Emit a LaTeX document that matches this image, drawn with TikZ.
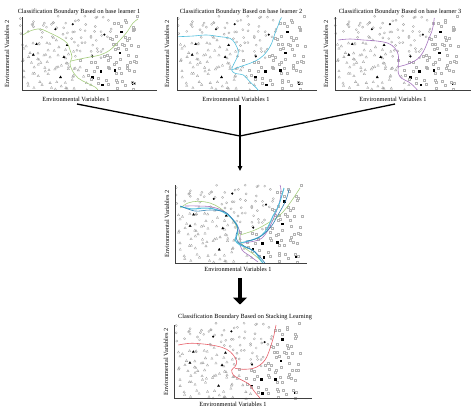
\documentclass[tikz,border=0pt]{standalone}
\usepackage{fontspec}
\setmainfont{Liberation Serif}
\usetikzlibrary{arrows.meta}
\definecolor{mkgray}{RGB}{160,160,160}
\definecolor{sqgray}{RGB}{180,180,180}
\definecolor{bgreen}{RGB}{165,205,125}
\definecolor{bcyan}{RGB}{80,190,220}
\definecolor{bblue}{RGB}{50,130,180}
\definecolor{bpurple}{RGB}{165,115,190}
\definecolor{bred}{RGB}{230,95,105}
\tikzset{
  mkpt/.style={draw=mkgray,line width=0.3pt},
  mksq/.style={draw=sqgray,line width=0.25pt},
  mkblack/.style={draw=black,fill=black,line width=0.2pt},
  axisline/.style={draw=black!75,line width=0.5pt},
  lbl/.style={font=\fontsize{6.3}{7}\selectfont,inner sep=0pt},
  bnd/.style={line width=0.6pt,smooth,tension=0.6},
  conn/.style={line width=1.3pt,draw=black},
}
% grid cells that hold a black (filled) marker
\foreach \a/\b in {5/2,9/1,8/3,13/2,17/1,2/4,1/6,6/6,6/8,12/5,15/7,17/5,13/8,11/9,14/10,18/9}{%
  \expandafter\gdef\csname blkcell\a-\b\endcsname{}}
\newcommand\scatterpanel[5]{%
  \pgfmathsetseed{#5}%
  \foreach \i in {0,...,19}{%
    \foreach \j in {0,...,10}{%
      \pgfmathsetmacro\uu{(\i+0.5+0.8*rand)/20}%
      \pgfmathsetmacro\vv{(\j+0.5+0.8*rand)/11}%
      \pgfmathsetmacro\px{#1+\uu*#3}%
      \pgfmathsetmacro\py{#2+\vv*#4}%
      \pgfmathtruncatemacro\tri{ifthenelse(\vv>0.28,ifthenelse(\uu<min(0.3+1.1*(\vv-0.28),0.46+0.4*max(\vv-0.6,0)),1,0),0)}%
      \pgfmathtruncatemacro\sqr{ifthenelse(\vv>0.58,1,ifthenelse(\uu>0.8-0.18*\vv,1,0))}%
      \ifcsname blkcell\i-\j\endcsname \def\mk{mkblack}\def\ms{mkblack}\def\hs{0.9}\def\cr{0.95pt}\else\def\mk{mkpt}\def\ms{mksq}\def\hs{1.0}\def\cr{1.1pt}\fi
      \ifnum\tri=1
        \draw[\mk] (\px,\py) ++(0,-1.3) -- ++(1.2,2.1) -- ++(-2.4,0) -- cycle;
      \else\ifnum\sqr=1
        \draw[\ms] (\px-\hs,\py-\hs) rectangle (\px+\hs,\py+\hs);
      \else
        \draw[\mk] (\px,\py) circle[radius=\cr];
      \fi\fi
    }}}
\begin{document}
\begin{tikzpicture}[x=1pt,y=-1pt]
\useasboundingbox (0,0) rectangle (474,413);

% ---------- panel 1 ----------
\scatterpanel{22}{18}{116}{70}{23}
\draw[axisline] (22,17) -- (22,90) -- (157,90);
\draw[bnd,bgreen] plot coordinates {(23,35) (30,31) (40,29) (50,33) (60,38) (67,43) (70,50) (72,57) (70,63) (72,70) (78,78) (87,83) (95,87) (98,90)};
\draw[bnd,bgreen] plot coordinates {(71,61) (80,59) (90,57) (100,55) (110,50) (120,40) (127,32) (133,23) (138,19)};
\node[lbl] (t1) at (79,12) {Classification Boundary Based on base learner 1};
\node[lbl] (x1) at (76,99) {Environmental Variables 1};
\node[lbl,rotate=90] (y1) at (7,54) {Environmental Variables 2};

% ---------- panel 2 ----------
\scatterpanel{180}{18}{125}{70}{23}
\draw[axisline] (177,17) -- (177,90) -- (317,90);
\draw[bnd,bcyan] plot coordinates {(178.3,36.7) (193.3,36) (206.7,35) (220,36.7) (230,38.3) (235,43.3) (238.3,51.7) (236.7,58.3) (233.3,65) (231.7,70) (235,73.3) (243.3,75) (248.3,80) (253.3,85) (256.7,88.3) (258.3,90.5)};
\draw[bnd,bcyan] plot coordinates {(231.7,70) (240,66.7) (250,63.3) (260,58.3) (266.7,51.7) (271.7,43.3) (275,33.3) (278.3,25) (280,20) (281.7,17.5)};
\node[lbl] (t2) at (241,12) {Classification Boundary Based on base learner 2};
\node[lbl] (x2) at (236,99) {Environmental Variables 1};
\node[lbl,rotate=90] (y2) at (167,54) {Environmental Variables 2};

% ---------- panel 3 ----------
\scatterpanel{337}{18}{121}{70}{23}
\draw[axisline] (335,17) -- (335,90) -- (471,90);
\draw[bnd,bpurple] plot coordinates {(338.3,40) (350,39) (363.3,40) (376.7,41) (388.3,43.3) (395,48.3) (398.3,55) (398.3,65) (398.3,73.3) (401.7,78.3) (408.3,81.7) (413.3,85.7) (417.3,90)};
\draw[bnd,bpurple] plot coordinates {(398.3,66.7) (405,65) (413.3,61.7) (420,56.7) (425,48.3) (428.3,40) (431.7,31.7) (433.3,25) (434.3,18)};
\node[lbl] (t3) at (400,12) {Classification Boundary Based on base learner 3};
\node[lbl] (x3) at (393,99) {Environmental Variables 1};
\node[lbl,rotate=90] (y3) at (326,54) {Environmental Variables 2};

% ---------- connectors ----------
\coordinate (c1) at (77,104);
\coordinate (c2) at (240,105);
\coordinate (c3) at (395,104);
\coordinate (cj) at (240,136);
\coordinate (c4) at (240,171);
\draw[conn] (c1) -- (cj) -- (c3);
\draw[conn,-{Triangle[length=5pt,width=4.5pt]}] (c2) -- (c4);

% ---------- panel 4 ----------
\scatterpanel{178}{187}{124}{74}{23}
\draw[axisline] (175,185) -- (175,263) -- (307,263);
\draw[bnd,bgreen] plot coordinates {(180.3,208) (188,203) (198,201.3) (210,203) (220,208) (228,215) (235,223) (238,232) (240,240) (245,248) (252,253) (258,258) (262,262)};
\draw[bnd,bgreen] plot coordinates {(240,235) (255,230) (268,223) (280,215) (290,203) (300,188)};
\draw[bnd,bpurple] plot coordinates {(185,206) (198,206) (212,207) (225,212) (235,222) (240,232) (240,242) (242,250) (250,256) (258,262)};
\draw[bnd,bpurple] plot coordinates {(243,243) (255,241) (262,238) (268,230) (275,215) (280,200) (281,190) (280,185)};
\draw[bnd,bcyan,line width=1pt] plot coordinates {(180.3,206.3) (192,209) (205,208) (218,210) (228,215) (235,222) (238,228) (237,235) (235,240) (240,245) (248,248) (255,252) (259,258) (263,263)};
\draw[bnd,bcyan,line width=1pt] plot coordinates {(240,243) (252,240) (262,235) (268,227) (273,216) (278,207) (282,195) (284,188)};
\draw[bnd,bblue] plot coordinates {(180.3,206) (195,211) (210,210) (225,212) (233,220) (238,228) (236,235) (238,242) (246,247) (254,251) (260,257) (265,263)};
\draw[bnd,bblue] plot coordinates {(246,241) (258,238) (270,228) (278,215) (286,200) (289,189)};
\node[lbl] (x4) at (238,269) {Environmental Variables 1};
\node[lbl,rotate=90] (y4) at (167,224) {Environmental Variables 2};

% ---------- thick arrow ----------
\coordinate (d1) at (240,278);
\coordinate (d2) at (240,304.5);
\draw[line width=4.6pt,-{Triangle[length=7pt,width=14pt]}] (d1) -- (d2);

% ---------- panel 5 ----------
\scatterpanel{178}{325}{122}{72}{23}
\draw[axisline] (174,325) -- (174,398) -- (312,398);
\draw[bnd,bred] plot coordinates {(178.3,345) (190,343.3) (203.3,344) (216.7,346) (226.7,349.3) (233.3,355) (236.7,361.7) (235,366.7) (231.7,370) (233.3,375) (238.3,378.3) (245,381.7) (250,385) (253.3,390) (257.3,395) (260,398)};
\draw[bnd,bred] plot coordinates {(235,368.3) (243.3,369.3) (253.3,368.3) (260,365) (265,360) (268.3,353.3) (271.7,343.3) (274,335) (276,325)};
\node[lbl] (t5) at (245,317) {Classification Boundary Based on Stacking Learning};
\node[lbl] (x5) at (233,404) {Environmental Variables 1};
\node[lbl,rotate=90] (y5) at (166,362) {Environmental Variables 2};
\end{tikzpicture}
\end{document}
